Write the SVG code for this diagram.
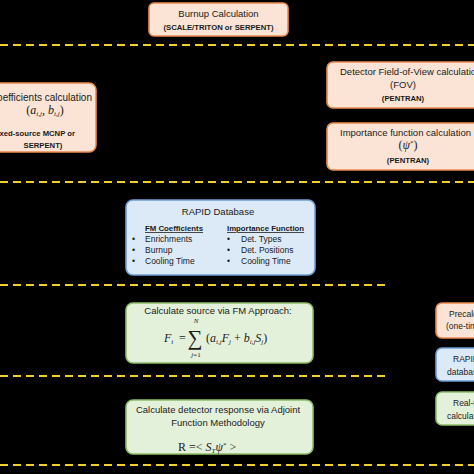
<svg xmlns="http://www.w3.org/2000/svg" width="474" height="474" viewBox="0 0 474 474">
<style>
.bg{fill:#000}
.or{fill:#fbe4d5;stroke:#ea8a4c;stroke-width:1.6}
.bl{fill:#dce9f6;stroke:#6e9fd6;stroke-width:1.6}
.gr{fill:#e4f1da;stroke:#8dbd68;stroke-width:1.6}
.sep{stroke:#f0d02c;stroke-width:2;stroke-dasharray:8 5;fill:none}
.t{font-family:"Liberation Sans",Arial,sans-serif;font-size:9.5px;fill:#1a1a1a}
.b{font-family:"Liberation Sans",Arial,sans-serif;font-size:7.7px;font-weight:bold;fill:#1a1a1a}
.h{font-family:"Liberation Sans",Arial,sans-serif;font-size:7.8px;font-weight:bold;fill:#1a1a1a;text-decoration:underline}
.s{font-family:"Liberation Sans",Arial,sans-serif;font-size:8.5px;fill:#1a1a1a}
.m{font-family:"Liberation Serif","Times New Roman",serif;font-size:12px;font-style:italic;fill:#1a1a1a}
.mr{font-family:"Liberation Serif","Times New Roman",serif;font-size:12px;fill:#1a1a1a}
.sub{font-size:7px;font-style:italic}
.it{font-style:italic}
.conn{stroke:#000;stroke-width:1.2;fill:none}
</style>
<rect class="bg" x="0" y="0" width="474" height="474"/>

<g id="separators">
<line class="sep" x1="0" y1="45" x2="474" y2="45"/>
<line class="sep" x1="0" y1="182" x2="474" y2="182"/>
<line class="sep" x1="0" y1="285" x2="388" y2="285"/>
<line class="sep" x1="0" y1="376" x2="388" y2="376"/>
<line class="sep" x1="0" y1="465" x2="474" y2="465"/>
</g>

<g id="connectors">
<line class="conn" x1="218" y1="275" x2="218" y2="303"/>
<line class="conn" x1="218" y1="363" x2="218" y2="400"/>
</g>

<g id="burnup">
<rect class="or" x="149" y="3" width="139" height="33" rx="5"/>
<text class="t" x="218.5" y="16.5" text-anchor="middle">Burnup Calculation</text>
<text class="b" x="218.5" y="29.5" text-anchor="middle">(SCALE/TRITON or SERPENT)</text>
</g>

<g id="fm-coefficients">
<rect class="or" x="-40" y="83" width="136" height="69" rx="7"/>
<text class="t" x="92" y="101" text-anchor="end" style="font-size:10px">Coefficients calculation</text>
<text class="mr" x="45" y="114" text-anchor="middle">(<tspan class="it">a</tspan><tspan class="sub" dy="2">i,j</tspan><tspan dy="-2">, </tspan><tspan class="it">b</tspan><tspan class="sub" dy="2">i,j</tspan><tspan dy="-2">)</tspan></text>
<text class="b" x="75" y="136" text-anchor="end">(Fixed-source MCNP or</text>
<text class="b" x="43" y="148" text-anchor="middle">SERPENT)</text>
</g>

<g id="fov">
<rect class="or" x="327" y="62" width="160" height="46" rx="6"/>
<text class="t" x="340" y="75">Detector Field-of-View calculation</text>
<text class="t" x="403" y="88" text-anchor="middle">(FOV)</text>
<text class="b" x="403" y="101" text-anchor="middle">(PENTRAN)</text>
</g>

<g id="importance">
<rect class="or" x="327" y="123" width="160" height="47" rx="6"/>
<text class="t" x="340" y="136">Importance function calculation</text>
<text class="mr" x="408" y="149" text-anchor="middle">(<tspan class="it">ψ</tspan><tspan style="font-size:7px" dy="-4">*</tspan><tspan dy="4">)</tspan></text>
<text class="b" x="408" y="163" text-anchor="middle">(PENTRAN)</text>
</g>

<g id="rapid-db">
<rect class="bl" x="126" y="200" width="189" height="75" rx="7"/>
<text class="t" x="218" y="215" text-anchor="middle">RAPID Database</text>
<text class="h" x="145" y="231">FM Coefficients</text>
<text class="h" x="227" y="231">Importance Function</text>
<text class="s" x="132" y="242">•</text>
<text class="s" x="132" y="253">•</text>
<text class="s" x="132" y="264">•</text>
<text class="s" x="145" y="242">Enrichments</text>
<text class="s" x="145" y="253">Burnup</text>
<text class="s" x="145" y="264">Cooling Time</text>
<text class="s" x="227" y="242">•</text>
<text class="s" x="227" y="253">•</text>
<text class="s" x="227" y="264">•</text>
<text class="s" x="241" y="242">Det. Types</text>
<text class="s" x="241" y="253">Det. Positions</text>
<text class="s" x="241" y="264">Cooling Time</text>
</g>

<g id="fm-source">
<rect class="gr" x="126" y="303" width="187" height="60" rx="7"/>
<text class="t" x="218" y="314" text-anchor="middle">Calculate source via FM Approach:</text>
<text class="m" x="164" y="342">F<tspan class="sub" dy="2">i</tspan></text>
<text class="mr" x="179" y="342">=</text>
<text class="mr" x="195" y="345" text-anchor="middle" style="font-size:21px">∑</text>
<text class="m" x="196" y="323" text-anchor="middle" style="font-size:7px">N</text>
<text class="m" x="196" y="357" text-anchor="middle" style="font-size:7px">j<tspan style="font-style:normal">=1</tspan></text>
<text class="mr" x="206" y="342">(<tspan class="it">a</tspan><tspan class="sub" dy="2">i,j</tspan><tspan class="it" dy="-2">F</tspan><tspan class="sub" dy="2">j</tspan><tspan dy="-2"> + </tspan><tspan class="it">b</tspan><tspan class="sub" dy="2">i,j</tspan><tspan class="it" dy="-2">S</tspan><tspan class="sub" dy="2">j</tspan><tspan dy="-2">)</tspan></text>
</g>

<g id="adjoint">
<rect class="gr" x="126" y="400" width="187" height="54" rx="7"/>
<text class="t" x="218" y="413" text-anchor="middle">Calculate detector response via Adjoint</text>
<text class="t" x="218" y="426" text-anchor="middle">Function Methodology</text>
<text class="mr" x="178" y="451">R =&lt; <tspan class="it">S</tspan><tspan class="sub" dy="2">T</tspan><tspan class="it" dy="-2">ψ</tspan><tspan style="font-size:7px" dy="-4">*</tspan><tspan dy="4"> &gt;</tspan></text>
</g>

<g id="legend-precalc">
<rect class="or" x="436" y="303" width="60" height="35" rx="6"/>
<text class="s" x="449" y="317">Precalculation</text>
<text class="s" x="446" y="329">(one-time)</text>
</g>
<g id="legend-rapid">
<rect class="bl" x="436" y="348" width="60" height="33" rx="6"/>
<text class="s" x="453" y="362">RAPID</text>
<text class="s" x="447" y="375">database</text>
</g>
<g id="legend-realtime">
<rect class="gr" x="436" y="392" width="60" height="33" rx="6"/>
<text class="s" x="453" y="406">Real-time</text>
<text class="s" x="447" y="419">calculation</text>
</g>
</svg>
